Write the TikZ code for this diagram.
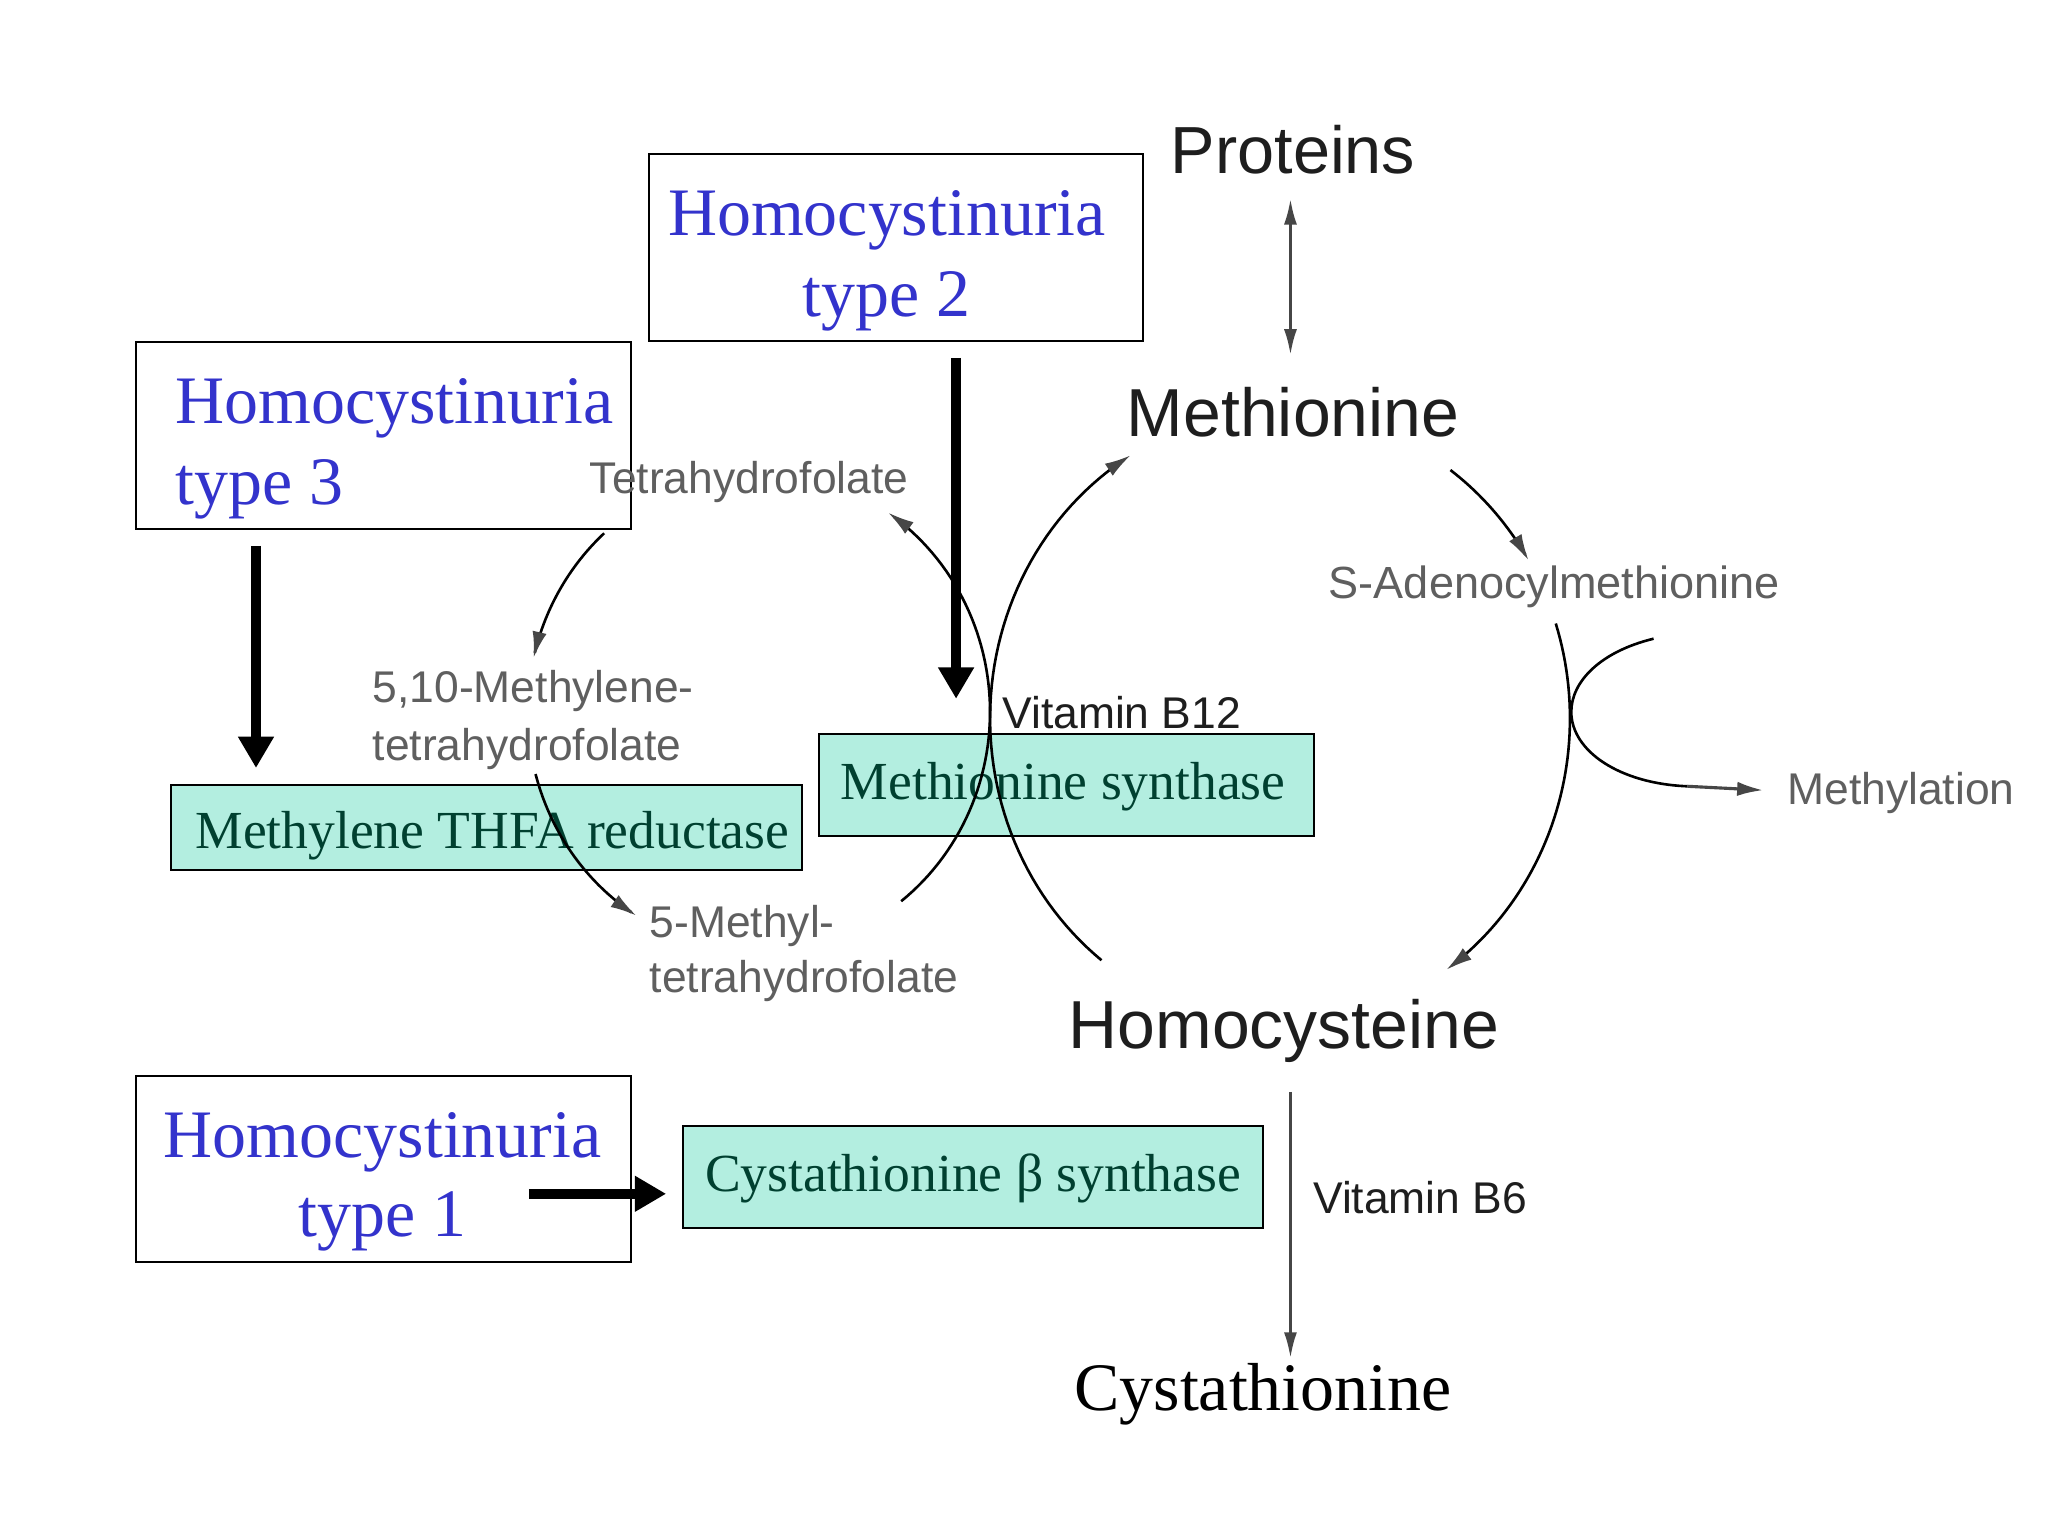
\documentclass[tikz,border=0pt]{standalone}
\usepackage{fontspec}
\setmainfont{Liberation Serif}
\newfontfamily\lsans{Liberation Sans}
\usetikzlibrary{arrows.meta}
\definecolor{hblue}{RGB}{51,51,204}
\definecolor{egreen}{RGB}{0,64,48}
\definecolor{efill}{RGB}{179,238,224}
\definecolor{lblgray}{RGB}{95,95,95}
\definecolor{darklbl}{RGB}{30,30,30}
\definecolor{tipgray}{RGB}{70,70,70}
\begin{document}
\begin{tikzpicture}[x=0.5pt,y=-0.5pt,
  hbox/.style={draw=black, line width=0.8pt, inner sep=0pt, fill=white},
  ebox/.style={draw=black, line width=0.8pt, inner sep=0pt, fill=efill},
  htext/.style={text=hblue, font=\fontsize{26pt}{31pt}\selectfont, inner sep=0pt, anchor=base},
  etext/.style={text=egreen, font=\fontsize{20.5pt}{24pt}\selectfont, inner sep=0pt, anchor=base},
  bigname/.style={text=darklbl, font=\lsans\fontsize{26pt}{31pt}\selectfont, inner sep=0pt, anchor=base},
  smallname/.style={text=lblgray, font=\lsans\fontsize{17pt}{22pt}\selectfont, inner sep=0pt, anchor=base west},
  vitname/.style={text=darklbl, font=\lsans\fontsize{17pt}{22pt}\selectfont, inner sep=0pt, anchor=base west},
  curveline/.style={line width=1pt, black},
  curvetip/.style={-{Latex[length=10pt,width=5.5pt,color=tipgray]}},
  bigarrow/.style={line width=4pt, black, -{Triangle[length=12pt,width=13pt]}}
]
\useasboundingbox (0,0) rectangle (1568,1176);
\fill[white] (0,0) rectangle (1568,1176);

% boxes
\node[hbox, minimum width=189.5pt, minimum height=71.5pt] (t3box) at (293.5,333.5) {};
\node[hbox, minimum width=189pt, minimum height=71.5pt] (t2box) at (686,189.5) {};
\node[hbox, minimum width=189.5pt, minimum height=71pt] (t1box) at (293.5,895) {};
\node[ebox, minimum width=241.5pt, minimum height=32.5pt] (mthfr) at (372.5,633.5) {};
\node[ebox, minimum width=189.5pt, minimum height=39pt] (ms) at (816.5,601) {};
\node[ebox, minimum width=222pt, minimum height=39pt] (cbs) at (745,901) {};

% box texts
\node[htext, anchor=base west] (t3a) at (134,324) {Homocystinuria};
\node[htext, anchor=base west] (t3b) at (134,386) {type 3};
\node[htext] (t2a) at (679,180) {Homocystinuria};
\node[htext] (t2b) at (679,242) {type 2};
\node[htext] (t1a) at (293,886) {Homocystinuria};
\node[htext] (t1b) at (293,947) {type 1};
\node[etext] (mthfrt) at (377,650) {Methylene THFA reductase};
\node[etext] (mst) at (814,612) {Methionine synthase};
\node[etext] (cbst) at (745,912) {Cystathionine β synthase};

% metabolite names
\node[bigname, font=\lsans\fontsize{25.5pt}{31pt}\selectfont] (prot) at (990,133) {Proteins};
\node[bigname] (met) at (990,334) {Methionine};
\node[bigname] (hcy) at (983,803) {Homocysteine};
\node[text=black, font=\fontsize{26pt}{31pt}\selectfont, inner sep=0pt, anchor=base] (cysta) at (967,1080) {Cystathionine};
\node[smallname, anchor=base] (thf) at (573.5,378) {Tetrahydrofolate};
\node[smallname, font=\lsans\fontsize{17.25pt}{22pt}\selectfont, anchor=base] (sam) at (1190,458) {S-Adenocylmethionine};
\node[smallname] (mthf1) at (285,538) {5,10-Methylene-};
\node[smallname] (mthf2) at (285,582) {tetrahydrofolate};
\node[smallname] (methyl1) at (497,718) {5-Methyl-};
\node[smallname] (methyl2) at (497,760) {tetrahydrofolate};
\node[smallname] (methyl) at (1368,616) {Methylation};
\node[vitname] (b12) at (767,558) {Vitamin B12};
\node[vitname] (b6) at (1005,929) {Vitamin B6};

% Proteins <-> Methionine
\draw[line width=1.2pt, tipgray, {Latex[length=10pt,width=5pt]}-{Latex[length=10pt,width=5pt]}]
  (988,152) -- (988,272);

% folate cycle (left circle)
\draw[curveline, curvetip] plot[domain=228:193, samples=30] ({581+177*cos(\x)},{545+184*sin(\x)});
\draw[curveline, curvetip] plot[domain=165:122, samples=30] ({581+177*cos(\x)},{545+184*sin(\x)});
\draw[curveline, curvetip] plot[domain=52:-56, samples=60] ({581+177*cos(\x)},{545+184*sin(\x)});

% methionine cycle (right circle)
\draw[curveline, curvetip] plot[domain=128:239, samples=60] ({980+222*cos(\x)},{550+235*sin(\x)});
\draw[curveline, curvetip] plot[domain=-54:-31, samples=20] ({980+222*cos(\x)},{550+235*sin(\x)});
\draw[curveline, curvetip] plot[domain=-18:55, samples=50] ({980+222*cos(\x)},{550+235*sin(\x)});

% methylation branch
\coordinate (brs) at (1266,489);
\coordinate (brt) at (1203,545);
\coordinate (bre) at (1292,602);
\coordinate (brtip) at (1350,605);
\draw[curveline] (brs) .. controls (1225,499) and (1203,522) .. (brt)
  .. controls (1203,575) and (1240,600) .. (bre);
\draw[line width=1.2pt, tipgray, -{Latex[length=10pt,width=5.5pt]}] (bre) -- (brtip);

% homocysteine -> cystathionine
\coordinate (hcyb) at (988,836);
\coordinate (cysb) at (988,1040);
\draw[line width=1.2pt, tipgray, -{Latex[length=10pt,width=5pt]}] (hcyb) -- (cysb);

% thick arrows
\draw[bigarrow] (196,418) -- (196,588);
\draw[bigarrow] (732,274) -- (732,535);
\draw[bigarrow] (405,914) -- (510,914);
\end{tikzpicture}
\end{document}
